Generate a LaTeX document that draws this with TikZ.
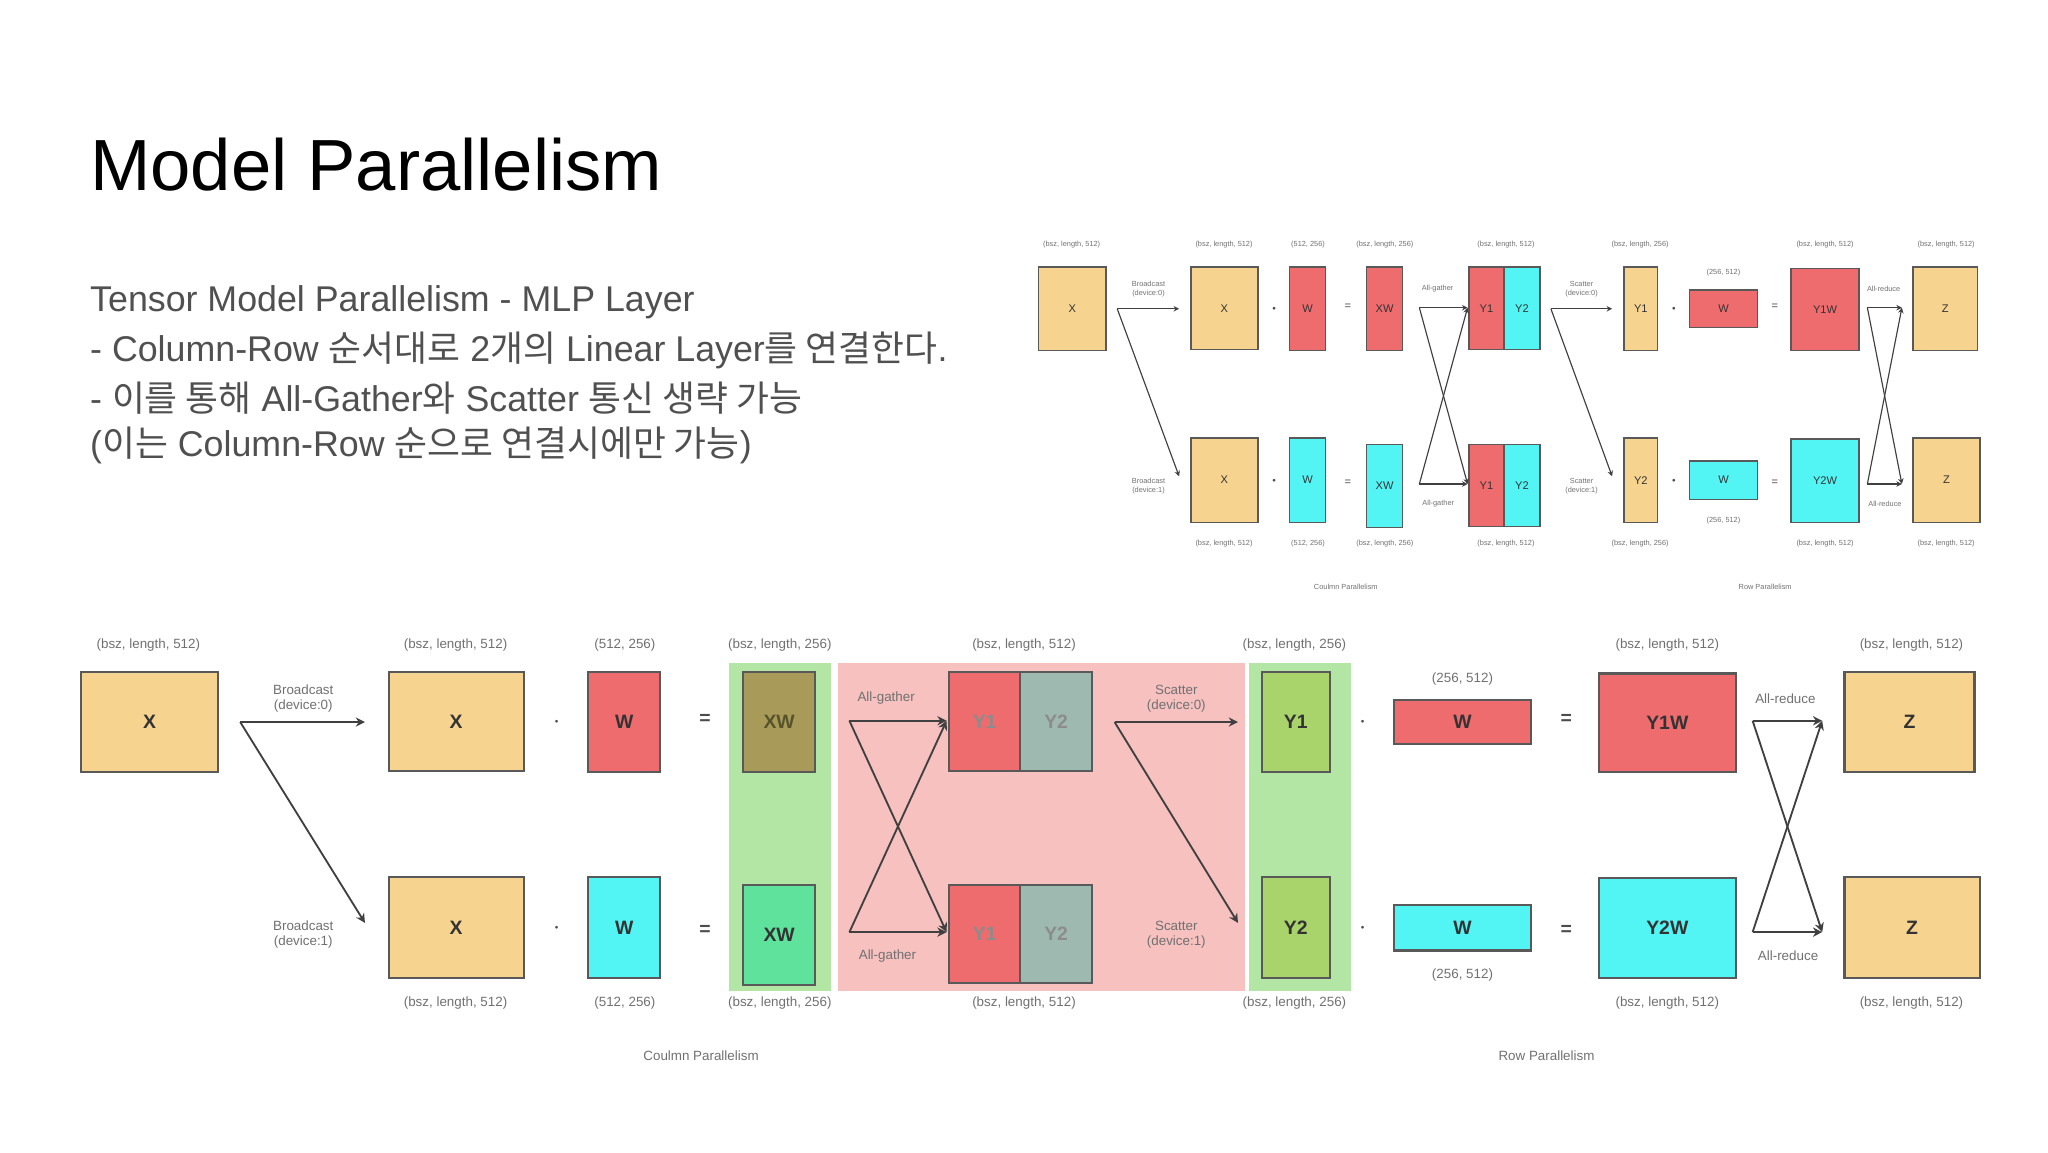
\documentclass[tikz,border=0pt]{standalone}
\usepackage{fontspec}
\setmainfont{Liberation Sans}
\newfontfamily\kr{Noto Sans CJK KR}
\usetikzlibrary{arrows.meta}
\definecolor{cyel}{HTML}{F6D38F}
\definecolor{cred}{HTML}{EE6B6E}
\definecolor{ccyan}{HTML}{52F5F3}
\definecolor{cband}{HTML}{B3E6A5}
\definecolor{cpink}{HTML}{F7C1C0}
\definecolor{colive}{HTML}{A89B5A}
\definecolor{cgxw}{HTML}{5FE29C}
\definecolor{cteal}{HTML}{9EB9AF}
\definecolor{cyg}{HTML}{A9D36B}
\definecolor{txt}{HTML}{505050}
\definecolor{lbl}{HTML}{707070}
\newif\ifbands
\newcommand\bx[8][]{\node[boxst,fill=#7,minimum width={(#5-#3)*\ux},minimum height={(#6-#4)*\ux*\uyr},#1] (\pf#2) at ({(#3+#5)/2},{(#4+#6)/2}) {#8};}
\newcommand\drawdiag{%
 \ifbands
  \fill[cband] (555,505) rectangle (633,755);
  \fill[cpink] (638,505) rectangle (948,755);
  \fill[cband] (951,505) rectangle (1029,755);
 \fi
 \bx{X0}{62}{512}{166}{588}{cyel}{X}
 \bx{X1}{296}{512}{399}{587}{cyel}{X}
 \bx{X2}{296}{668}{399}{745}{cyel}{X}
 \bx{W1}{448}{512}{503}{588}{cred}{W}
 \bx{W2}{448}{668}{503}{745}{ccyan}{W}
 \bx[text=\xwtext]{XW1}{566}{512}{621}{588}{\xwa}{XW}
 \bx{XW2}{566}{674}{621}{750}{\xwb}{XW}
 \bx[text=\ytext]{Ya1}{723}{512}{777}{587}{cred}{Y1}
 \bx[text=\ytext]{Yb1}{777}{512}{832}{587}{\ytwo}{Y2}
 \bx[text=\ytext]{Ya2}{723}{674}{777}{749}{cred}{Y1}
 \bx[text=\ytext]{Yb2}{777}{674}{832}{749}{\ytwo}{Y2}
 \bx{Y1}{961}{512}{1013}{588}{\yrow}{Y1}
 \bx{Y2}{961}{668}{1013}{745}{\yrow}{Y2}
 \bx{V1}{1062}{533}{1166}{567}{cred}{W}
 \bx{V2}{1062}{689}{1166}{724}{ccyan}{W}
 \bx{YW1}{1218}{513}{1322}{588}{cred}{Y1W}
 \bx{YW2}{1218}{669}{1322}{745}{ccyan}{Y2W}
 \bx{Z1}{1405}{512}{1504}{588}{cyel}{Z}
 \bx{Z2}{1405}{668}{1508}{745}{cyel}{Z}
 \foreach \n/\x/\y/\s in {d1/424/550/$\cdot$,d2/424/707/$\cdot$,d3/1038/550/$\cdot$,d4/1038/707/$\cdot$,e1/537/548/=,e2/537/709/=,e3/1193/548/=,e4/1193/709/=}
  {\node[opst] (\pf\n) at (\x,\y) {\s};}
 \coordinate (\pf b0) at (183,550); \coordinate (\pf b1) at (278,550); \coordinate (\pf b2) at (278,703);
 \draw[arrst] (\pf b0) -- (\pf b1); \draw[arrst] (\pf b0) -- (\pf b2);
 \coordinate (\pf g1) at (647,549); \coordinate (\pf g2) at (721,549);
 \coordinate (\pf g3) at (647,710); \coordinate (\pf g4) at (721,710);
 \draw[arrst] (\pf g1) -- (\pf g2); \draw[arrst] (\pf g1) -- (\pf g4);
 \draw[arrst] (\pf g3) -- (\pf g4); \draw[arrst] (\pf g3) -- (\pf g2);
 \coordinate (\pf s0) at (849,550); \coordinate (\pf s1) at (943,550); \coordinate (\pf s2) at (943,703);
 \draw[arrst] (\pf s0) -- (\pf s1); \draw[arrst] (\pf s0) -- (\pf s2);
 \coordinate (\pf r1) at (1335,549); \coordinate (\pf r2) at (1388,549);
 \coordinate (\pf r3) at (1335,710); \coordinate (\pf r4) at (1388,710);
 \draw[arrst] (\pf r1) -- (\pf r2); \draw[arrst] (\pf r1) -- (\pf r4);
 \draw[arrst] (\pf r3) -- (\pf r4); \draw[arrst] (\pf r3) -- (\pf r2);
 \foreach \n/\x/\y/\t in {t1/113/491/{(bsz, length, 512)},t2/347/491/{(bsz, length, 512)},t3/476/491/{(512, 256)},t4/594/491/{(bsz, length, 256)},t5/780/491/{(bsz, length, 512)},t6/986/491/{(bsz, length, 256)},t7/1270/491/{(bsz, length, 512)},t8/1456/491/{(bsz, length, 512)},
  u2/347/764/{(bsz, length, 512)},u3/476/764/{(512, 256)},u4/594/764/{(bsz, length, 256)},u5/780/764/{(bsz, length, 512)},u6/986/764/{(bsz, length, 256)},u7/1270/764/{(bsz, length, 512)},u8/1456/764/{(bsz, length, 512)},
  v1/1114/517/{(256, 512)},v2/1114/743/{(256, 512)},
  a1/675/532/{All-gather},a2/676/728/{All-gather},a3/1360/532/{All-reduce},a4/1362/728/{All-reduce},
  p1/534/804/{Coulmn Parallelism},p2/1178/804/{Row Parallelism}}
  {\node[lblst] (\pf\n) at (\x,\y) {\t};}
 \foreach \n/\x/\y/\t in {c1/231/532/{Broadcast\\(device:0)},c2/231/712/{Broadcast\\(device:1)},c3/896/532/{Scatter\\(device:0)},c4/896/712/{Scatter\\(device:1)}}
  {\node[lblst,align=center] (\pf\n) at (\x,\y) {\t};}
}
\begin{document}
\begin{tikzpicture}[x=0.01cm,y=-0.01cm,
  boxst/.style={draw=black!65,line width=\blw,inner sep=0pt,text=black!80,font=\bxf},
  opst/.style={inner sep=0pt,text=black!70,font=\bxf},
  lblst/.style={inner sep=0pt,text=lbl,font=\lf},
  arrst/.style={draw=black!75,line width=\alw,-{Stealth[length=\atl,width=\atl]}}]
\useasboundingbox (0,0) rectangle (1560,877.5);
\node[anchor=base west,inner sep=0pt,font=\fontsize{15.7}{19}\selectfont] (title) at (68,145) {Model Parallelism};
\begin{scope}[every node/.style={anchor=west,inner sep=0pt,text=txt,font=\fontsize{7.75}{9.5}\selectfont}]
\node (l1) at (68,230) {Tensor Model Parallelism - MLP Layer};
\node (l2) at (68,267) {- Column-Row {\kr 순서대로} 2{\kr 개의} Linear Layer{\kr 를 연결한다}.};
\node (l3) at (68,303) {- {\kr 이를 통해} All-Gather{\kr 와} Scatter {\kr 통신 생략 가능}};
\node (l4) at (68,339) {({\kr 이는} Column-Row {\kr 순으로 연결시에만 가능})};
\end{scope}
% bottom diagram
\begingroup
\def\pf{B}\def\ux{0.01cm}\def\uyr{1}
\def\bxf{\fontsize{4.2}{5}\selectfont\bfseries}
\def\lf{\fontsize{2.9}{3.3}\selectfont}
\def\blw{0.45pt}\def\alw{0.4pt}\def\atl{2pt}
\def\xwa{colive}\def\xwb{cgxw}\def\ytwo{cteal}\def\yrow{cyg}
\def\xwtext{black!50!olive}\def\ytext{black!45}
\bandstrue
\drawdiag
\endgroup
% top diagram
\begingroup
\def\pf{T}\def\ux{0.00496cm}\def\uyr{1.6815}
\def\bxf{\fontsize{2.4}{3}\selectfont}
\def\lf{\fontsize{1.6}{1.9}\selectfont}
\def\blw{0.3pt}\def\alw{0.25pt}\def\atl{1.2pt}
\def\xwa{cred}\def\xwb{ccyan}\def\ytwo{ccyan}\def\yrow{cyel}
\def\xwtext{black!80}\def\ytext{black!80}
\bandsfalse
\begin{scope}[shift={(760.25,-223.5)},xscale=0.496,yscale=0.834]
\drawdiag
\end{scope}
\endgroup
\end{tikzpicture}
\end{document}
